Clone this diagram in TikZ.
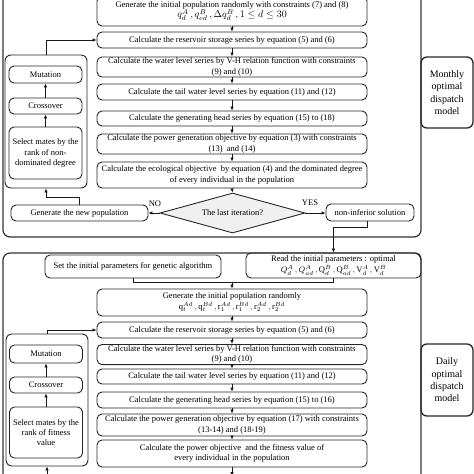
\documentclass[tikz,border=0pt]{standalone}
\usepackage{fontspec}
\setmainfont{Liberation Serif}
\usetikzlibrary{shapes.geometric,arrows.meta}
\begin{document}
\begin{tikzpicture}[x=1pt,y=-1pt,
  base/.style={draw=black!85, line width=0.9pt, rounded corners=5pt, align=center, inner sep=1pt, font=\fontsize{8.5}{10.3}\selectfont},
  mainbox/.style={base, minimum width=270pt},
  sidebox/.style={base, minimum width=73pt},
  loopbox/.style={draw=black!85, line width=0.9pt, rounded corners=6pt, minimum width=82pt},
  frame/.style={draw=black!80, line width=1.2pt, rounded corners=7pt},
  labelbox/.style={draw=black!85, line width=1.3pt, rounded corners=6pt, align=center, minimum width=52pt, font=\fontsize{10}{12.3}\selectfont},
  arr/.style={-{Latex[length=4pt,width=3.6pt]}, line width=0.8pt, draw=black!90},
  ln/.style={line width=0.8pt, draw=black!90}
]
\useasboundingbox (0,0) rectangle (474,474);
% frames
\draw[frame] (3,-14) rectangle (421,237);
\draw[frame] (3,253) rectangle (421,500);

% ---------- Monthly ----------
\node[mainbox, minimum height=30pt] (g1) at (232,11) {Generate the initial population randomly with constraints (7) and (8)\\[0pt] {\fontsize{10}{11}\selectfont $q_d^A\,,q_{ed}^B\,,\Delta q_d^B\,,1\le d\le 30$}};
\node[mainbox, minimum height=16pt] (m2) at (232,40) {Calculate the reservoir storage series by equation (5) and (6)};
\node[mainbox, minimum height=20pt] (m3) at (232,67) {Calculate the water level series by V-H relation function with constraints\\(9) and (10)};
\node[mainbox, minimum height=16pt] (m4) at (232,92) {Calculate the tail water level series by equation (11) and (12)};
\node[mainbox, minimum height=15pt] (m5) at (232,118.5) {Calculate the generating head series by equation (15) to (18)};
\node[mainbox, minimum height=20pt] (m6) at (232,144) {Calculate the power generation objective by equation (3) with constraints\\(13)\ \ and (14)};
\node[mainbox, minimum height=26pt] (m7) at (232,175) {Calculate the ecological objective\ \ by equation (4) and the dominated degree\\of every individual in the population};
\node[diamond, draw=black!85, line width=0.9pt, fill=gray!12, aspect=3.6, minimum width=145pt, minimum height=40pt, inner sep=0pt, font=\fontsize{8.5}{10.3}\selectfont] (dia) at (232.5,213) {The last iteration?};
\node[base, minimum width=137pt, minimum height=16pt] (newpop) at (79.5,213) {Generate the new population};
\node[base, minimum width=88pt, minimum height=17pt] (noninf) at (370,212.5) {non-inferior solution};
\node[font=\fontsize{8.5}{10}\selectfont, inner sep=0pt] (no) at (155,203.5) {NO};
\node[font=\fontsize{8.5}{10}\selectfont, inner sep=0pt] (yes) at (310,202.5) {YES};

\node[loopbox, minimum height=133pt] (L1) at (46,121.5) {};
\node[sidebox, minimum height=17pt] (mut1) at (45.5,74.5) {Mutation};
\node[sidebox, minimum height=16pt] (cross1) at (45.5,106) {Crossover};
\node[sidebox, minimum height=52pt] (sel1) at (45.5,153) {Select mates by the\\rank of non-\\dominated degree};

\node[labelbox, minimum height=71pt] (lab1) at (447,92.5) {Monthly\\optimal\\dispatch\\model};

\draw[arr] (g1.south) -- (m2.north);
\draw[arr] (m2.south) -- (m3.north);
\draw[arr] (m3.south) -- (m4.north);
\draw[arr] (m4.south) -- (m5.north);
\draw[arr] (m5.south) -- (m6.north);
\draw[arr] (m6.south) -- (m7.north);
\draw[arr] (m7.south) -- (dia.north);
\draw[arr] (dia.west) -- (newpop.east);
\draw[arr] (dia.east) -- (dia.east -| noninf.west);
\draw[arr] (sel1.north) -- (cross1.south);
\draw[arr] (cross1.north) -- (mut1.south);
\draw[arr] (L1.north) |- (m2.west);
\draw[arr] (newpop.north) -- ++(0,-7) -| (L1.south);

% ---------- Daily ----------
\node[base, minimum width=176pt, minimum height=23pt] (set) at (133,266.5) {Set the initial parameters for genetic algorithm};
\node[base, minimum width=175pt, minimum height=25pt] (read) at (333.5,265.5) {Read the initial parameters : optimal\\ $Q_d^A\,,Q_{ad}^A\,,\mathrm{Q}_d^B\,,\mathrm{Q}_{ad}^B\,,\mathrm{V}_d^A\,,\mathrm{V}_d^B$};
\draw[arr] ([xshift=-3pt]noninf.south) -- ++(0,6) -| (read.north);

\node[mainbox, minimum height=27pt] (g2) at (232,302.5) {Generate the initial population randomly\\ $\mathrm{q}_t^{Ad}\,,\mathrm{q}_t^{Bd}\,,\mathrm{r}_1^{Ad}\,,\mathrm{r}_1^{Bd}\,,\mathrm{r}_2^{Ad}\,,\mathrm{r}_2^{Bd}$};
\node[mainbox, minimum height=16pt] (d2) at (232,330) {Calculate the reservoir storage series by equation (5) and (6)};
\node[mainbox, minimum height=19pt] (d3) at (232,354.5) {Calculate the water level series by V-H relation function with constraints\\(9) and (10)};
\node[mainbox, minimum height=15pt] (d4) at (232,376.5) {Calculate the tail water level series by equation (11) and (12)};
\node[mainbox, minimum height=16pt] (d5) at (232,400) {Calculate the generating head series by equation (15) to (16)};
\node[mainbox, minimum height=22pt] (d6) at (232,425) {Calculate the power generation objective by equation (17) with constraints\\(13-14) and (18-19)};
\node[mainbox, minimum height=27pt] (d7) at (232,453.5) {Calculate the power objective\ \ and the fitness value of\\every individual in the population};

\node[loopbox, minimum height=132pt] (L2) at (47,400) {};
\node[sidebox, minimum height=18pt] (mut2) at (46,354) {Mutation};
\node[sidebox, minimum height=16pt] (cross2) at (46,385) {Crossover};
\node[sidebox, minimum height=51pt] (sel2) at (46,432.5) {Select mates by the\\rank of fitness\\value};

\node[labelbox, minimum height=72pt] (lab2) at (447,380) {Daily\\optimal\\dispatch\\model};

\coordinate (j) at (232,282);
\draw[ln] (set.south) |- (j);
\draw[ln] (read.south) |- (j);
\draw[arr] (j) -- (g2.north);
\draw[arr] (g2.south) -- (d2.north);
\draw[arr] (d2.south) -- (d3.north);
\draw[arr] (d3.south) -- (d4.north);
\draw[arr] (d4.south) -- (d5.north);
\draw[arr] (d5.south) -- (d6.north);
\draw[arr] (d6.south) -- (d7.north);
\coordinate (bot1) at (232,476);
\draw[arr] (d7.south) -- (bot1);
\draw[arr] (sel2.north) -- (cross2.south);
\draw[arr] (cross2.north) -- (mut2.south);
\draw[arr] (L2.north) |- (d2.west);
\coordinate (bot2) at (47,485);
\draw[arr] (bot2) -- (L2.south);
\end{tikzpicture}
\end{document}
